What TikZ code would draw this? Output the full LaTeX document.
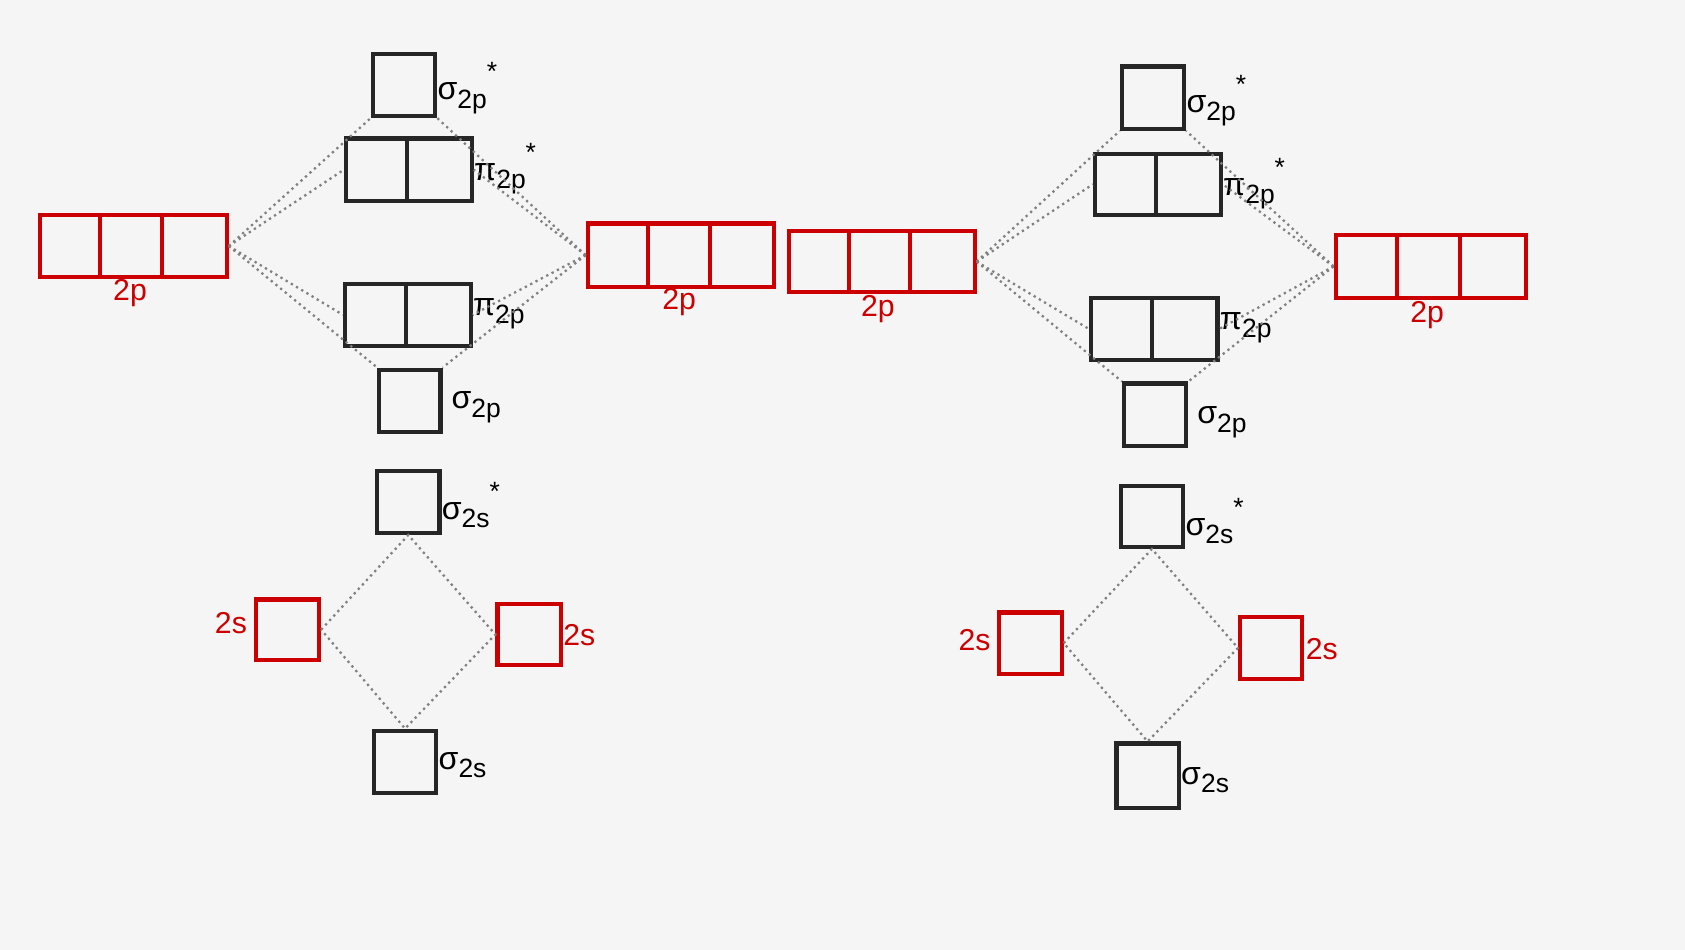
\documentclass[tikz,border=0pt]{standalone}
\usepackage{fontspec}
\setmainfont{Liberation Sans}
\newcommand{\mol}[3]{#1\raisebox{-0.5ex}{\scriptsize #2}\raisebox{1.1ex}{\scriptsize #3}}
\begin{document}
\begin{tikzpicture}[x=0.01cm,y=-0.01cm,
  mo/.style={draw=black!85,line width=1.1pt},
  ao/.style={draw=red!80!black,line width=1.1pt},
  lab/.style={font=\fontsize{8.5}{10}\selectfont,anchor=west,inner sep=1pt},
  rlab/.style={font=\fontsize{8}{10}\selectfont,text=red!80!black,inner sep=1pt},
  dl/.style={densely dotted,gray,line width=0.6pt}]
\fill[gray!8] (0,0) rectangle (1568,884);
\useasboundingbox (0,0) rectangle (1568,884);
\newcommand{\sq}[5]{\node[#1,minimum width=#4*0.01cm,minimum height=#5*0.01cm,inner sep=0,anchor=north west] (#2) at #3 {};}
% ---- left diagram
\sq{mo}{As2pst}{(345,48)}{58}{58}
\sq{mo}{Api2pst}{(320,127)}{117}{58}
\draw[mo] (378.5,127)--(378.5,185);
\sq{ao}{A2pL}{(35,198)}{174}{58}
\draw[ao] (93,198)--(93,256) (151,198)--(151,256);
\sq{mo}{Api2p}{(319,262)}{117}{58}
\draw[mo] (377.5,262)--(377.5,320);
\sq{mo}{As2p}{(351,342)}{57}{58}
\sq{mo}{As2sst}{(349,436)}{58}{58}
\sq{ao}{A2sL}{(236,556)}{59}{56}
\sq{ao}{A2sR}{(461,560)}{59}{57}
\sq{mo}{As2s}{(346,678)}{58}{58}
\sq{ao}{A2pR}{(545,206)}{173}{59}
\draw[ao] (603,206)--(603,265) (661,206)--(661,265);
\node[rlab] (lA1) at (121,273) {2p};
\node[rlab] (lA2) at (632,281) {2p};
\node[rlab,anchor=east] (lA3) at (234,580) {2s};
\node[rlab,anchor=west] (lA4) at (520,591) {2s};
\node[lab] (lA5) at (403,82) {\mol{σ}{2p}{*}};
\node[lab] (lA6) at (437,157) {\mol{π}{2p}{*}};
\node[lab] (lA7) at (436,291) {\mol{π}{2p}{}};
\node[lab] (lA8) at (416,378) {\mol{σ}{2p}{}};
\node[lab] (lA9) at (407,470) {\mol{σ}{2s}{*}};
\node[lab] (lA10) at (404,711) {\mol{σ}{2s}{}};
\foreach \t in {As2pst.south west,Api2pst.west,Api2p.west,As2p.north west}
  \draw[dl] (A2pL.east) -- (\t);
\foreach \t in {As2pst.south east,Api2pst.east,Api2p.east,As2p.north east}
  \draw[dl] (A2pR.west) -- (\t);
\draw[dl] (A2sL.east)--(As2sst.south)--(A2sR.west)--(As2s.north)--(A2sL.east);
% ---- right diagram
\sq{mo}{Bs2pst}{(1042,60)}{58}{58}
\sq{mo}{Bpi2pst}{(1017,141)}{117}{57}
\draw[mo] (1075.5,141)--(1075.5,198);
\sq{ao}{B2pL}{(732,213)}{173}{57}
\draw[ao] (790,213)--(790,270) (847,213)--(847,270);
\sq{mo}{Bpi2p}{(1013,275)}{118}{58}
\draw[mo] (1072,275)--(1072,333);
\sq{mo}{Bs2p}{(1044,355)}{58}{58}
\sq{mo}{Bs2sst}{(1041,450)}{58}{57}
\sq{ao}{B2sL}{(928,568)}{58}{57}
\sq{ao}{B2sR}{(1152,572)}{58}{58}
\sq{mo}{Bs2s}{(1037,690)}{58}{60}
\sq{ao}{B2pR}{(1241,217)}{177}{58}
\draw[ao] (1300,217)--(1300,275) (1359,217)--(1359,275);
\node[rlab] (lB1) at (817,288) {2p};
\node[rlab] (lB2) at (1328,293) {2p};
\node[rlab,anchor=east] (lB3) at (926,596) {2s};
\node[rlab,anchor=west] (lB4) at (1211,604) {2s};
\node[lab] (lB5) at (1100,94) {\mol{σ}{2p}{*}};
\node[lab] (lB6) at (1134,171) {\mol{π}{2p}{*}};
\node[lab] (lB7) at (1131,304) {\mol{π}{2p}{}};
\node[lab] (lB8) at (1110,392) {\mol{σ}{2p}{}};
\node[lab] (lB9) at (1099,485) {\mol{σ}{2s}{*}};
\node[lab] (lB10) at (1095,725) {\mol{σ}{2s}{}};
\foreach \t in {Bs2pst.south west,Bpi2pst.west,Bpi2p.west,Bs2p.north west}
  \draw[dl] (B2pL.east) -- (\t);
\foreach \t in {Bs2pst.south east,Bpi2pst.east,Bpi2p.east,Bs2p.north east}
  \draw[dl] (B2pR.west) -- (\t);
\draw[dl] (B2sL.east)--(Bs2sst.south)--(B2sR.west)--(Bs2s.north)--(B2sL.east);
\end{tikzpicture}
\end{document}
